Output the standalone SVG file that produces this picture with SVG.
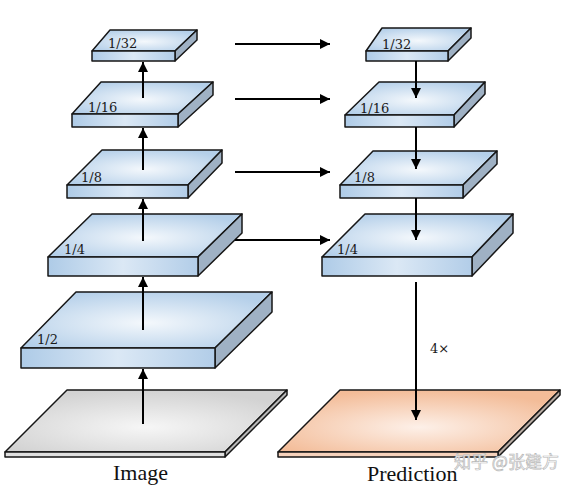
<svg xmlns="http://www.w3.org/2000/svg" width="576" height="487" viewBox="0 0 576 487">
<style>
.e{stroke:#161616;stroke-width:1.5;stroke-linejoin:round}
.bt{fill:url(#gTop)}
.bf{fill:url(#gFront)}
.bs{fill:#9fb1c4}
.lab{font-family:"DejaVu Serif","Liberation Serif",serif;font-size:13px;fill:#1a1a1a}
.cap{font-family:"Liberation Serif",serif;font-size:22px;fill:#111}
.c{stroke:#000;stroke-width:2;fill:none}
</style>
<defs>
<radialGradient id="gTop" cx="0.5" cy="0.55" r="0.6">
<stop offset="0" stop-color="#f4f8fc"/>
<stop offset="1" stop-color="#b4cfe9"/>
</radialGradient>
<linearGradient id="gFront" x1="0" y1="0" x2="1" y2="0">
<stop offset="0" stop-color="#aecbe7"/>
<stop offset="0.5" stop-color="#dbe8f5"/>
<stop offset="1" stop-color="#b2cde8"/>
</linearGradient>
<radialGradient id="gGray" cx="0.5" cy="0.6" r="0.6">
<stop offset="0" stop-color="#f6f6f6"/>
<stop offset="1" stop-color="#d2d2d2"/>
</radialGradient>
<radialGradient id="gPeach" cx="0.5" cy="0.6" r="0.6">
<stop offset="0" stop-color="#fdf0e8"/>
<stop offset="1" stop-color="#f3bc98"/>
</radialGradient>
<marker id="ah" markerUnits="userSpaceOnUse" markerWidth="12" markerHeight="12" refX="10" refY="5" orient="auto">
<path d="M0,0 L10,5 L0,10 Z" fill="#000"/>
</marker>
</defs>

<g id="plane-image">
<polygon class="e" points="5,452 67,390 287,390 225,452" fill="url(#gGray)"/>
<polygon class="e" points="225,452 287,390 287,395 225,457" fill="#b8b8b8"/>
<rect class="e" x="5" y="452" width="220" height="5" fill="#e0e0e0"/>
</g>
<g id="plane-prediction">
<polygon class="e" points="278,452 340,390 560,390 498,452" fill="url(#gPeach)"/>
<polygon class="e" points="498,452 560,390 560,395 498,457" fill="#b8aca4"/>
<rect class="e" x="278" y="452" width="220" height="5" fill="#f6d2bc"/>
</g>

<g id="L2">
<polygon class="e bt" points="21,348 76,292 272,292 215,348"/>
<polygon class="e bs" points="215,348 272,292 272,312 215,368"/>
<rect class="e bf" x="21" y="348" width="194" height="20"/>
<text class="lab" x="37" y="344">1/2</text>
</g>
<g id="L4">
<polygon class="e bt" points="48,257 92,214 242,214 198,257"/>
<polygon class="e bs" points="198,257 242,214 242,233 198,276"/>
<rect class="e bf" x="48" y="257" width="150" height="19"/>
<text class="lab" x="64" y="254">1/4</text>
</g>
<g id="L8">
<polygon class="e bt" points="67,185 102,150 222,150 188,185"/>
<polygon class="e bs" points="188,185 222,150 222,163 188,198"/>
<rect class="e bf" x="67" y="185" width="121" height="13"/>
<text class="lab" x="81" y="182">1/8</text>
</g>
<g id="L16">
<polygon class="e bt" points="72,114 101,82 213,82 178,114"/>
<polygon class="e bs" points="178,114 213,82 213,95 178,127"/>
<rect class="e bf" x="72" y="114" width="106" height="13"/>
<text class="lab" x="88" y="112">1/16</text>
</g>
<g id="L32">
<polygon class="e bt" points="92,51 110,30 197,30 175,51"/>
<polygon class="e bs" points="175,51 197,30 197,40 175,61"/>
<rect class="e bf" x="92" y="51" width="83" height="10"/>
<text class="lab" x="108" y="48">1/32</text>
</g>

<g id="R4">
<polygon class="e bt" points="322,257 365,214 513,214 472,257"/>
<polygon class="e bs" points="472,257 513,214 513,233 472,276"/>
<rect class="e bf" x="322" y="257" width="150" height="19"/>
<text class="lab" x="337" y="254">1/4</text>
</g>
<g id="R8">
<polygon class="e bt" points="340,185 373,151 497,151 463,185"/>
<polygon class="e bs" points="463,185 497,151 497,164 463,198"/>
<rect class="e bf" x="340" y="185" width="123" height="13"/>
<text class="lab" x="354" y="182">1/8</text>
</g>
<g id="R16">
<polygon class="e bt" points="345,115 379,82 485,82 454,115"/>
<polygon class="e bs" points="454,115 485,82 485,94 454,127"/>
<rect class="e bf" x="345" y="115" width="109" height="12"/>
<text class="lab" x="360" y="113">1/16</text>
</g>
<g id="R32">
<polygon class="e bt" points="366,51 382,28 471,28 448,51"/>
<polygon class="e bs" points="448,51 471,28 471,38 448,61"/>
<rect class="e bf" x="366" y="51" width="82" height="10"/>
<text class="lab" x="382" y="49">1/32</text>
</g>

<g id="connectors">
<line class="c" x1="143" y1="424" x2="143" y2="369" marker-end="url(#ah)"/>
<line class="c" x1="143" y1="330" x2="143" y2="277" marker-end="url(#ah)"/>
<line class="c" x1="143" y1="241" x2="143" y2="199" marker-end="url(#ah)"/>
<line class="c" x1="143" y1="170" x2="143" y2="128" marker-end="url(#ah)"/>
<line class="c" x1="143" y1="98" x2="143" y2="62" marker-end="url(#ah)"/>
<line class="c" x1="416" y1="61" x2="416" y2="98" marker-end="url(#ah)"/>
<line class="c" x1="416" y1="127" x2="416" y2="169" marker-end="url(#ah)"/>
<line class="c" x1="416" y1="198" x2="416" y2="240" marker-end="url(#ah)"/>
<line class="c" x1="416" y1="282" x2="416" y2="420" marker-end="url(#ah)"/>
<line class="c" x1="235" y1="44" x2="330" y2="44" marker-end="url(#ah)"/>
<line class="c" x1="235" y1="99" x2="330" y2="99" marker-end="url(#ah)"/>
<line class="c" x1="235" y1="172" x2="330" y2="172" marker-end="url(#ah)"/>
<line class="c" x1="235" y1="240" x2="330" y2="240" marker-end="url(#ah)"/>
</g>

<text class="lab" x="430" y="353" font-size="14">4×</text>
<text class="cap" x="113" y="480">Image</text>
<text class="cap" x="367" y="481">Prediction</text>
<text x="454" y="468" font-family="'Noto Sans CJK SC',sans-serif" font-size="17" fill="#ffffff" stroke="#b8b8b8" stroke-width="0.7">知乎 @张建方</text>
</svg>
